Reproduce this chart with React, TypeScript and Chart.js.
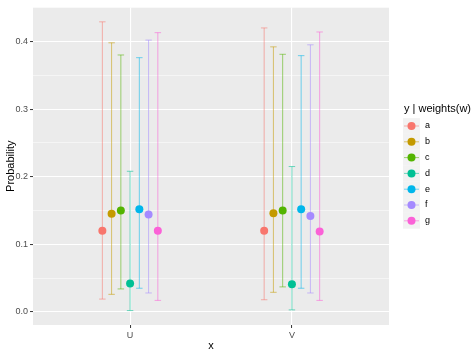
import React, { useEffect, useRef } from "react";
import { Chart, registerables } from "chart.js";

Chart.register(...registerables);

const categories = ["U", "V"];
const groups = ["a", "b", "c", "d", "e", "f", "g"];
const colors = ["#F8766D", "#C49A00", "#53B400", "#00C094", "#00B6EB", "#A58AFF", "#FB61D7"];

const probU = [0.12, 0.145, 0.15, 0.042, 0.152, 0.144, 0.12];
const probV = [0.12, 0.146, 0.15, 0.041, 0.152, 0.142, 0.119];
const lowerU = [0.019, 0.026, 0.034, 0.002, 0.035, 0.028, 0.017];
const upperU = [0.429, 0.398, 0.38, 0.208, 0.376, 0.402, 0.413];
const lowerV = [0.018, 0.029, 0.037, 0.003, 0.035, 0.028, 0.017];
const upperV = [0.42, 0.392, 0.381, 0.215, 0.379, 0.395, 0.414];

const yMajorTicks = [0.0, 0.1, 0.2, 0.3, 0.4];
const yTickLabels = ["0.0", "0.1", "0.2", "0.3", "0.4"];

const DODGE = 0.4;
const FONT = "'Liberation Sans', Arial, sans-serif";

function alpha(hex: string, a: number) {
  const r = parseInt(hex.slice(1, 3), 16);
  const g = parseInt(hex.slice(3, 5), 16);
  const b = parseInt(hex.slice(5, 7), 16);
  return `rgba(${r},${g},${b},${a})`;
}

export default function App() {
  const ref = useRef<HTMLCanvasElement | null>(null);

  useEffect(() => {
    const canvas = ref.current;
    if (!canvas) return;
    const n = groups.length;
    const offset = (i: number) => ((i - (n - 1) / 2) * DODGE) / n;
    const probs = [probU, probV];
    const lows = [lowerU, lowerV];
    const ups = [upperU, upperV];

    const allLow = Math.min(...lowerU, ...lowerV);
    const allHigh = Math.max(...upperU, ...upperV);
    const span = allHigh - allLow;
    const yMin = allLow - span * 0.05;
    const yMax = allHigh + span * 0.05;

    const yAll: number[] = [];
    yMajorTicks.forEach((v, i) => {
      yAll.push(v);
      const m = v + 0.05;
      if (m < yMax) yAll.push(+m.toFixed(2));
    });

    const datasets = groups.map((g, i) => ({
      label: g,
      data: categories.map((_, c) => ({ x: c + 1 + offset(i), y: probs[c][i] })),
      lows: categories.map((_, c) => lows[c][i]),
      ups: categories.map((_, c) => ups[c][i]),
      backgroundColor: colors[i],
      borderWidth: 0,
      pointRadius: 4,
      pointHoverRadius: 4,
    }));

    const isMajor = (v: number) => yMajorTicks.some((t) => Math.abs(t - v) < 1e-9);

    const bgPlugin = {
      id: "panelBg",
      beforeDraw(chart: any) {
        const { ctx, chartArea } = chart;
        ctx.save();
        ctx.fillStyle = "#EBEBEB";
        ctx.fillRect(chartArea.left, chartArea.top, chartArea.right - chartArea.left, chartArea.bottom - chartArea.top);
        ctx.restore();
      },
    };

    const errPlugin = {
      id: "errbars",
      beforeDatasetsDraw(chart: any) {
        const { ctx, scales } = chart;
        const xs = scales.x;
        const ys = scales.y;
        ctx.save();
        ctx.lineWidth = 1;
        chart.data.datasets.forEach((ds: any, i: number) => {
          ctx.strokeStyle = alpha(colors[i], 0.55);
          ds.data.forEach((p: any, c: number) => {
            const x = xs.getPixelForValue(p.x);
            const yl = ys.getPixelForValue(ds.lows[c]);
            const yu = ys.getPixelForValue(ds.ups[c]);
            const half = (xs.getPixelForValue(p.x + 0.02) - x);
            ctx.beginPath();
            ctx.moveTo(x, yl);
            ctx.lineTo(x, yu);
            ctx.moveTo(x - half, yu);
            ctx.lineTo(x + half, yu);
            ctx.moveTo(x - half, yl);
            ctx.lineTo(x + half, yl);
            ctx.stroke();
          });
        });
        ctx.restore();
      },
    };

    const legendPlugin = {
      id: "ggLegend",
      afterDraw(chart: any) {
        const { ctx } = chart;
        ctx.save();
        ctx.fillStyle = "#000";
        ctx.font = `11px ${FONT}`;
        ctx.textAlign = "left";
        ctx.textBaseline = "middle";
        ctx.fillText("y | weights(w)", 404, 109);
        const step = 15.8;
        groups.forEach((g, i) => {
          const cy = 126 + i * step;
          ctx.fillStyle = "#F2F2F2";
          ctx.fillRect(403, cy - step / 2, 17, step);
          ctx.strokeStyle = alpha(colors[i], 0.55);
          ctx.lineWidth = 1;
          ctx.beginPath();
          ctx.moveTo(404, cy);
          ctx.lineTo(419, cy);
          ctx.stroke();
          ctx.fillStyle = colors[i];
          ctx.beginPath();
          ctx.arc(411.5, cy, 4, 0, Math.PI * 2);
          ctx.fill();
          ctx.fillStyle = "#000";
          ctx.font = `9px ${FONT}`;
          ctx.fillText(g, 425, cy);
        });
        ctx.restore();
      },
    };

    const chart = new Chart(canvas, {
      type: "scatter",
      data: { datasets: datasets as any },
      options: {
        responsive: false,
        animation: false,
        events: [],
        layout: { padding: { left: 0, top: 5, right: 85, bottom: 0 } },
        plugins: { legend: { display: false }, tooltip: { enabled: false } },
        scales: {
          x: {
            type: "linear",
            min: 0.4,
            max: 2.6,
            afterFit(scale: any) {
              scale.height = 28;
            },
            afterBuildTicks(scale: any) {
              scale.ticks = categories.map((_, i) => ({ value: i + 1 }));
            },
            ticks: {
              autoSkip: false,
              maxRotation: 0,
              padding: 2,
              color: "#4D4D4D",
              font: { family: FONT, size: 9 },
              callback: (v: any) => categories[Math.round(Number(v)) - 1] ?? "",
            },
            grid: {
              color: "#FFFFFF",
              lineWidth: 1.1,
              tickLength: 3,
              tickColor: "#333333",
              tickWidth: 1,
            },
            border: { display: false },
            title: {
              display: true,
              text: "x",
              color: "#000",
              font: { family: FONT, size: 11 },
              padding: { top: 0, bottom: 0 },
            },
          },
          y: {
            type: "linear",
            min: yMin,
            max: yMax,
            afterFit(scale: any) {
              scale.width = 33;
            },
            afterBuildTicks(scale: any) {
              scale.ticks = yAll.filter((v) => v >= yMin && v <= yMax).map((v) => ({ value: v }));
            },
            ticks: {
              autoSkip: false,
              padding: 2,
              color: "#4D4D4D",
              font: { family: FONT, size: 9 },
              callback: (v: any) => {
                const idx = yMajorTicks.findIndex((t) => Math.abs(t - Number(v)) < 1e-9);
                return idx >= 0 ? yTickLabels[idx] : "";
              },
            },
            grid: {
              color: "#FFFFFF",
              lineWidth: (ctx: any) => (isMajor(ctx.tick?.value) ? 1.1 : 0.5),
              tickLength: 3,
              tickColor: (ctx: any) => (isMajor(ctx.tick?.value) ? "#333333" : "rgba(0,0,0,0)"),
              tickWidth: 1,
            },
            border: { display: false },
            title: {
              display: true,
              text: "Probability",
              color: "#000",
              font: { family: FONT, size: 11 },
              padding: { top: 4, bottom: 0 },
            },
          },
        },
      },
      plugins: [bgPlugin, errPlugin, legendPlugin],
    });
    return () => chart.destroy();
  }, []);

  return (
    <div style={{ position: "fixed", left: 0, top: 0, width: 474, height: 353, background: "#fff" }}>
      <canvas ref={ref} width={474} height={353} />
    </div>
  );
}
